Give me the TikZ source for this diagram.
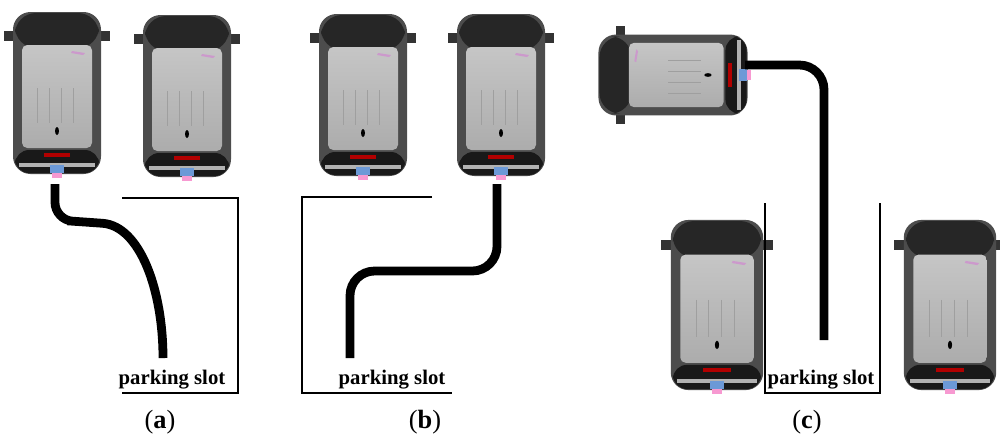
\documentclass[tikz,border=0pt]{standalone}
\usepackage{fontspec}
\setmainfont{Liberation Serif}
\begin{document}
\begin{tikzpicture}[x=0.02cm,y=-0.02cm,
  slotline/.style={line width=1.2pt},
  trackline/.style={line width=5pt},
  lbl/.style={font=\bfseries\fontsize{11.8}{14}\selectfont},
  sub/.style={font=\fontsize{15}{17}\selectfont},
  car/.pic={
    \fill[black!80] (-53,-62) rectangle (-42,-52);
    \fill[black!80] (42,-62) rectangle (53,-52);
    \fill[black!70,rounded corners=10] (-44,-81) rectangle (44,81);
    \fill[black!85,rounded corners=12] (-42,-80) rectangle (42,-45);
    \shade[top color=gray!45,bottom color=gray!65,rounded corners=3] (-35,-48) rectangle (35,55);
    \foreach \xx in {-20,-8,4,16} \draw[gray!75,line width=0.3pt] (\xx,-5) -- (\xx,30);
    \fill[black] (0,38) ellipse (2 and 4);
    \fill[violet!40] (15,-42) -- (28,-40) -- (26,-38) -- (14,-40) -- cycle;
    \fill[black!90,rounded corners=8] (-42,57) rectangle (42,80);
    \fill[red!70!black] (-13,60) rectangle (13,64);
    \fill[gray!60] (-38,70) rectangle (38,74);
    \fill[cyan!50!blue!60] (-7,72) rectangle (7,80);
    \fill[magenta!40] (-5,80) rectangle (5,85);
  }]
\useasboundingbox (0,0) rectangle (1000,444);
\begin{scope}
\clip (0,0) rectangle (1000,444);
\pic (car1) at (57,93) {car};
\pic (car2) at (187,96) {car};
\pic (car3) at (363,95) {car};
\pic (car4) at (501,95) {car};
\pic[rotate=90,scale=0.92] (car5) at (673,75) {car};
\pic[scale=1.05] (car6) at (717,305) {car};
\pic[scale=1.05] (car7) at (950,305) {car};
\end{scope}
% slots
\draw[slotline] (122,198) -- (238,198) -- (238,393) -- (122,393);
\draw[slotline] (432,197) -- (302,197) -- (302,393) -- (452,393);
\draw[slotline] (765,203) -- (765,393) -- (880,393) -- (880,203);
% tracks
\coordinate (a0) at (55,184);
\coordinate (a1) at (163,358);
\draw[trackline,rounded corners=10] (a0) -- (55,220) -- (85,222) .. controls (140,226) and (163,290) .. (a1);
\coordinate (b0) at (497,184);
\coordinate (b1) at (350,358);
\draw[trackline,rounded corners=14] (b0) -- (497,271) -- (350,271) -- (b1);
\coordinate (c0) at (745,65);
\coordinate (c1) at (824,340);
\draw[trackline,rounded corners=14] (c0) -- (824,65) -- (c1);
% labels
\node[lbl] (la) at (172,380) {parking slot};
\node[lbl] (lb) at (392,380) {parking slot};
\node[lbl] (lc) at (821,380) {parking slot};
\node[sub] (sa) at (160,422) {(\textbf{a})};
\node[sub] (sb) at (425,422) {(\textbf{b})};
\node[sub] (sc) at (807,422) {(\textbf{c})};
\end{tikzpicture}
\end{document}
